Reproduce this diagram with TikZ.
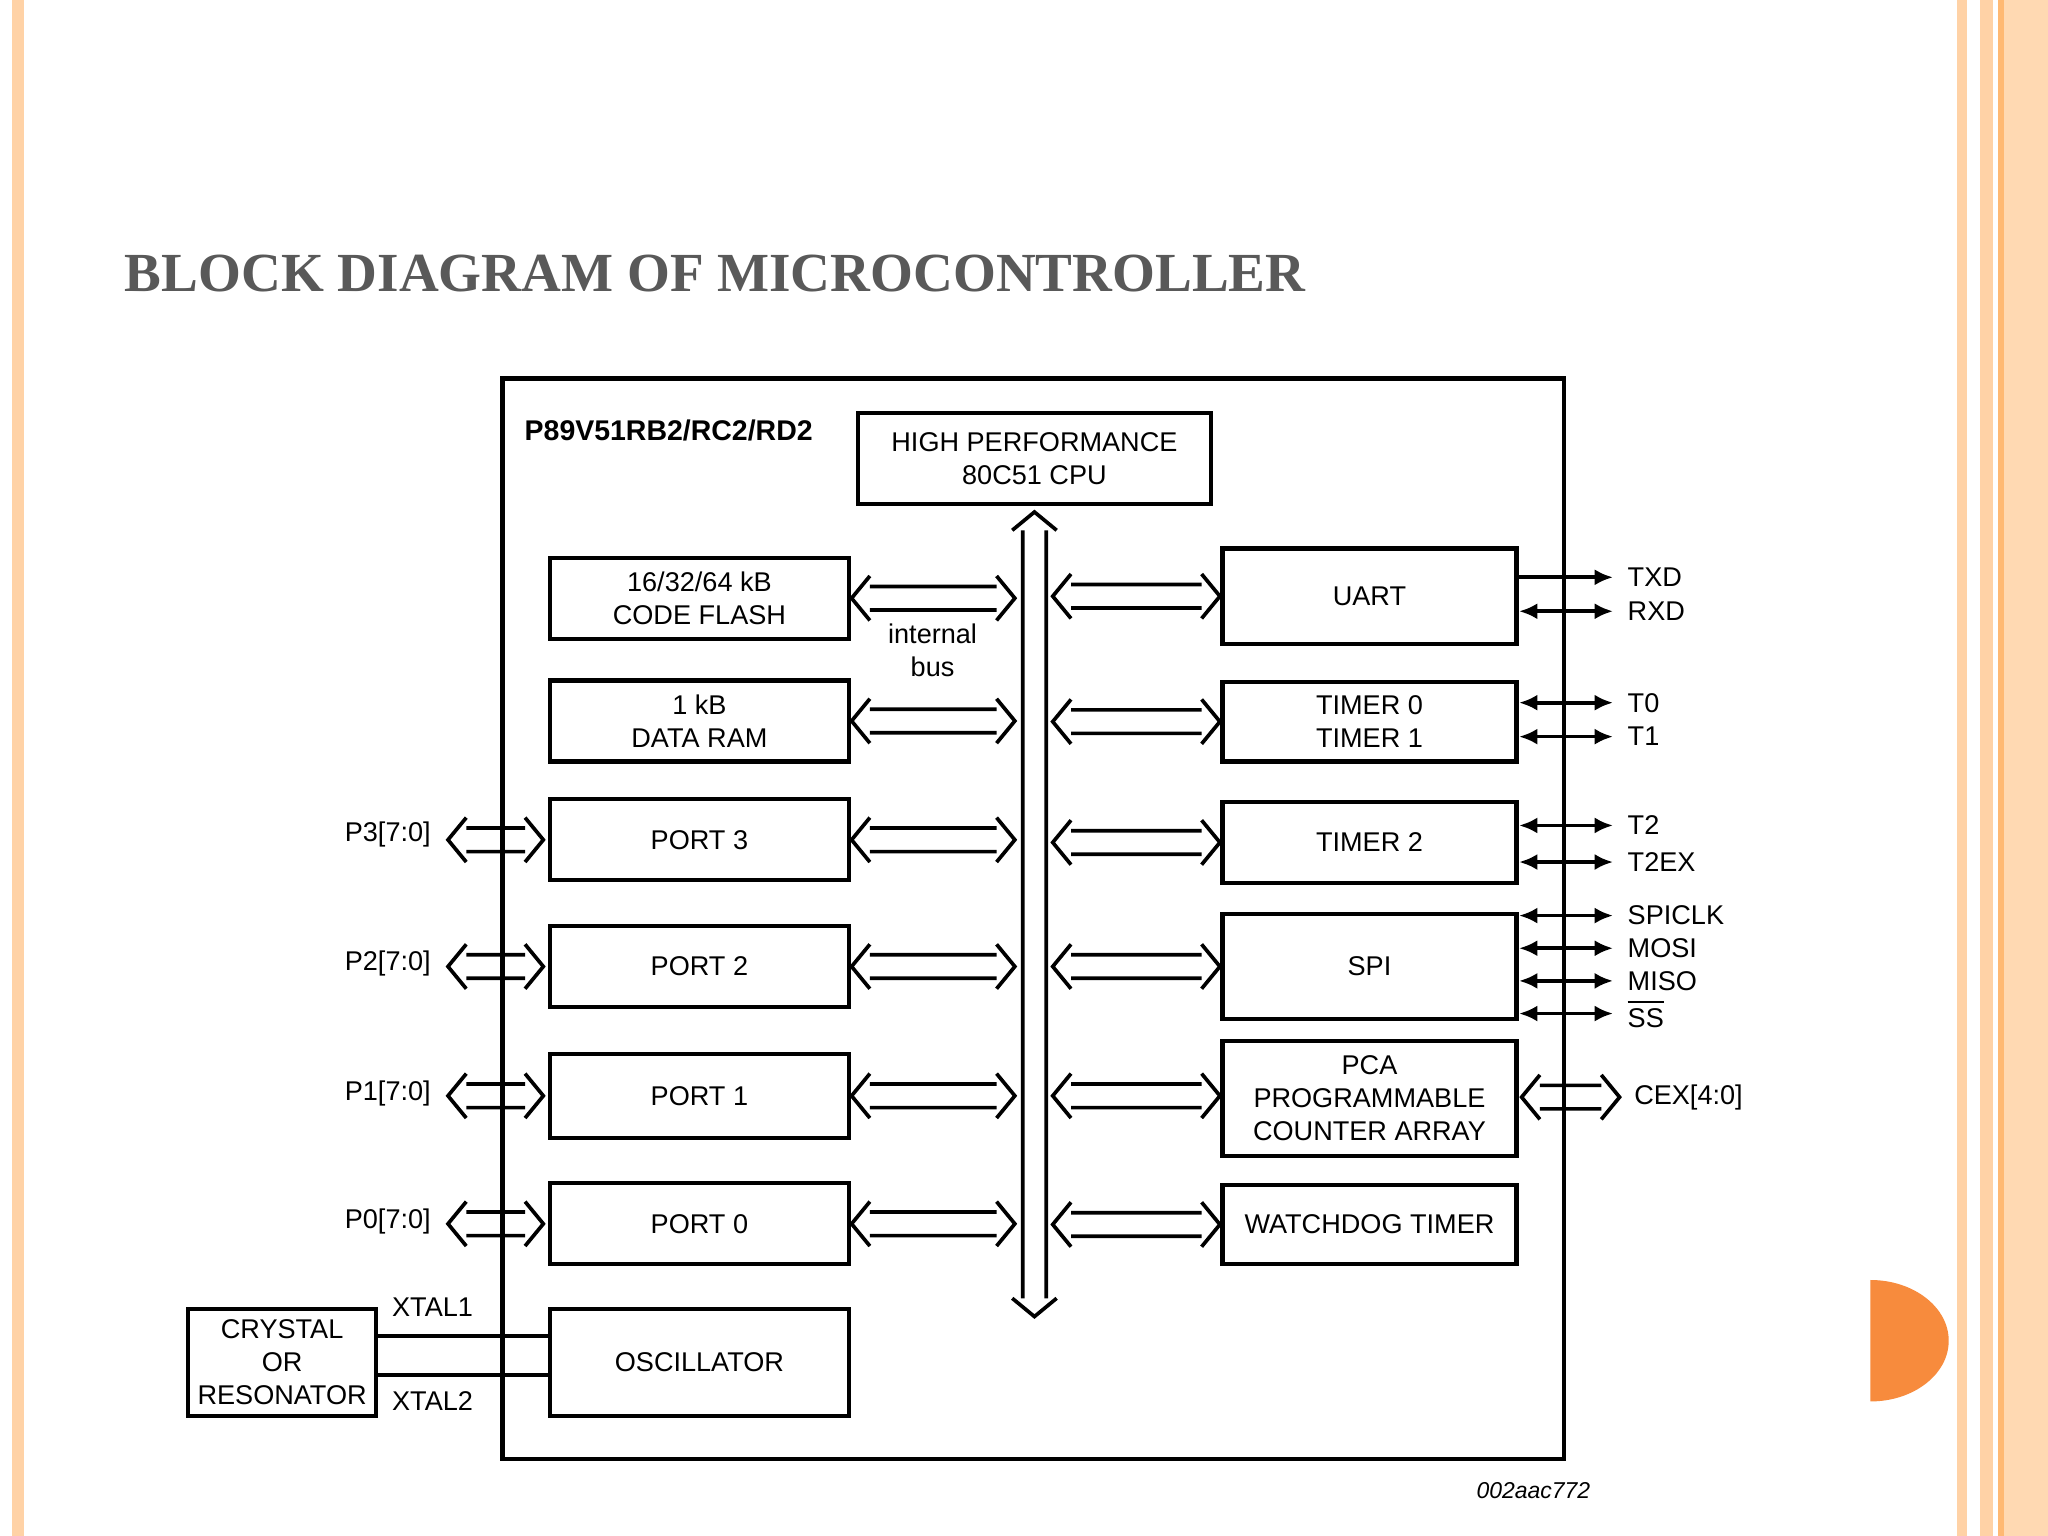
\documentclass[tikz,border=0pt]{standalone}
\usepackage{fontspec}
\setmainfont{Liberation Sans}
\newfontfamily\titlefont{Liberation Serif}
\usetikzlibrary{arrows.meta}
\definecolor{dot}{HTML}{F78B3D}
\begin{document}
\begin{tikzpicture}[x=0.01cm,y=-0.01cm,
  box/.style={draw,line width=0.9pt,fill=white,align=center,font=\fontsize{5.9}{7.2}\selectfont,inner sep=0pt},
  busl/.style={line width=0.8pt},
  sig/.style={line width=0.8pt,-{Latex[length=4pt,width=3.5pt]}},
  sigd/.style={line width=0.8pt,{Latex[length=4pt,width=3.5pt]}-{Latex[length=4pt,width=3.5pt]}},
  lab/.style={font=\fontsize{5.9}{7.2}\selectfont,inner sep=1pt}]
\newcommand\bus[3]{\draw[busl] ({#1+14},{#3-9}) -- ({#2-14},{#3-9}) ({#1+14},{#3+9}) -- ({#2-14},{#3+9})
  ({#1+14},{#3-17}) -- (#1,#3) -- ({#1+14},{#3+17}) ({#2-14},{#3-17}) -- (#2,#3) -- ({#2-14},{#3+17});}
\useasboundingbox (0,0) rectangle (1568,1176);
\fill[white] (0,0) rectangle (1568,1176);
% slide decorations
\fill[orange!35] (9,0) rectangle (18,1176);
\fill[orange!35] (1498,0) rectangle (1506,1176);
\fill[orange!35] (1516,0) rectangle (1526,1176);
\fill[orange!30] (1530,0) rectangle (1568,1176);
\fill[orange!55] (1530,0) rectangle (1534,1176);
\fill[dot] (1432,980) arc[start angle=-90,end angle=90,x radius=60,y radius=46.5] -- cycle;
\node[anchor=base west,inner sep=0pt,text=black!65,font=\titlefont\bfseries\fontsize{12}{14}\selectfont] (title) at (95,223) {BLOCK DIAGRAM OF MICROCONTROLLER};
% main frame
\node[draw,line width=0.9pt,minimum width=8.12cm,minimum height=8.27cm,inner sep=0pt] (main) at (791,703.5) {};
\node[anchor=north west,font=\bfseries\fontsize{6.2}{8}\selectfont,inner sep=0pt] (chip) at (401,321) {P89V51RB2/RC2/RD2};
\bus{343}{416}{643}
\bus{343}{416}{740}
\bus{343}{416}{839}
\bus{343}{416}{937}
% boxes
\node[box,minimum width=2.70cm,minimum height=0.70cm] (cpu) at (792,351) {HIGH PERFORMANCE\\80C51 CPU};
\node[box,minimum width=2.29cm,minimum height=0.62cm] (flash) at (535.5,458) {16/32/64 kB\\CODE FLASH};
\node[box,minimum width=2.29cm,minimum height=0.62cm] (ram) at (535.5,552) {1 kB\\DATA RAM};
\node[box,minimum width=2.29cm,minimum height=0.62cm] (p3) at (535.5,643) {PORT 3};
\node[box,minimum width=2.29cm,minimum height=0.62cm] (p2) at (535.5,740) {PORT 2};
\node[box,minimum width=2.29cm,minimum height=0.64cm] (p1) at (535.5,839) {PORT 1};
\node[box,minimum width=2.29cm,minimum height=0.62cm] (p0) at (535.5,937) {PORT 0};
\node[box,minimum width=2.29cm,minimum height=0.82cm] (osc) at (535.5,1043) {OSCILLATOR};
\node[box,minimum width=2.25cm,minimum height=0.73cm] (uart) at (1048.5,456.5) {UART};
\node[box,minimum width=2.25cm,minimum height=0.61cm] (tim) at (1048.5,552.5) {TIMER 0\\TIMER 1};
\node[box,minimum width=2.25cm,minimum height=0.62cm] (tim2) at (1048.5,645) {TIMER 2};
\node[box,minimum width=2.25cm,minimum height=0.80cm] (spi) at (1048.5,740) {SPI};
\node[box,minimum width=2.25cm,minimum height=0.88cm] (pca) at (1048.5,841) {PCA\\PROGRAMMABLE\\COUNTER ARRAY};
\node[box,minimum width=2.25cm,minimum height=0.61cm] (wdt) at (1048.5,937.5) {WATCHDOG TIMER};
\node[box,minimum width=1.44cm,minimum height=0.82cm] (xtal) at (216,1043) {CRYSTAL\\OR\\RESONATOR};
% internal bus
\draw[busl] (783,406) -- (783,994) (801,406) -- (801,994)
  (775,406) -- (792,392) -- (809,406) (775,994) -- (792,1008) -- (809,994);
\foreach \y in {458,552,643,740,839,937}{\bus{652}{777}{\y}}
\foreach \y in {456.5,552.5,645,740,839,937.5}{\bus{806}{934}{\y}}
\node[lab,align=center] (ib) at (714,498) {internal\\bus};
% port labels
\node[lab,anchor=east] (lp3) at (334,639) {P3[7:0]};
\node[lab,anchor=east] (lp2) at (334,738) {P2[7:0]};
\node[lab,anchor=east] (lp1) at (334,837) {P1[7:0]};
\node[lab,anchor=east] (lp0) at (334,935) {P0[7:0]};
% right signals
\foreach \y/\t/\s in {442/TXD/sig,468/RXD/sigd,538/T0/sigd,564/T1/sigd,632/T2/sigd,660/T2EX/sigd,701/SPICLK/sigd,726/MOSI/sigd,751/MISO/sigd}{
  \coordinate (s\t) at (1235,\y);
  \draw[\s] (1163,\y) -- (s\t);
  \node[lab,anchor=west] at (1242,\y) {\t};}
\coordinate (sSS) at (1235,776);
\draw[sigd] (1163,776) -- (sSS);
\node[lab,anchor=west] at (1242,776) {$\overline{\mbox{SS}}$};
\bus{1165}{1240}{840}
\node[lab,anchor=west] (cex) at (1247,840) {CEX[4:0]};
% crystal
\draw[line width=0.9pt] (xtal.east |- 0,1023) -- (osc.west |- 0,1023);
\draw[line width=0.9pt] (xtal.east |- 0,1053) -- (osc.west |- 0,1053);
\node[lab,anchor=west] (x1) at (296,1001) {XTAL1};
\node[lab,anchor=west] (x2) at (296,1073) {XTAL2};
\node[inner sep=0pt,font=\itshape\fontsize{5}{6}\selectfont] (code) at (1174,1141) {002aac772};
\end{tikzpicture}
\end{document}
